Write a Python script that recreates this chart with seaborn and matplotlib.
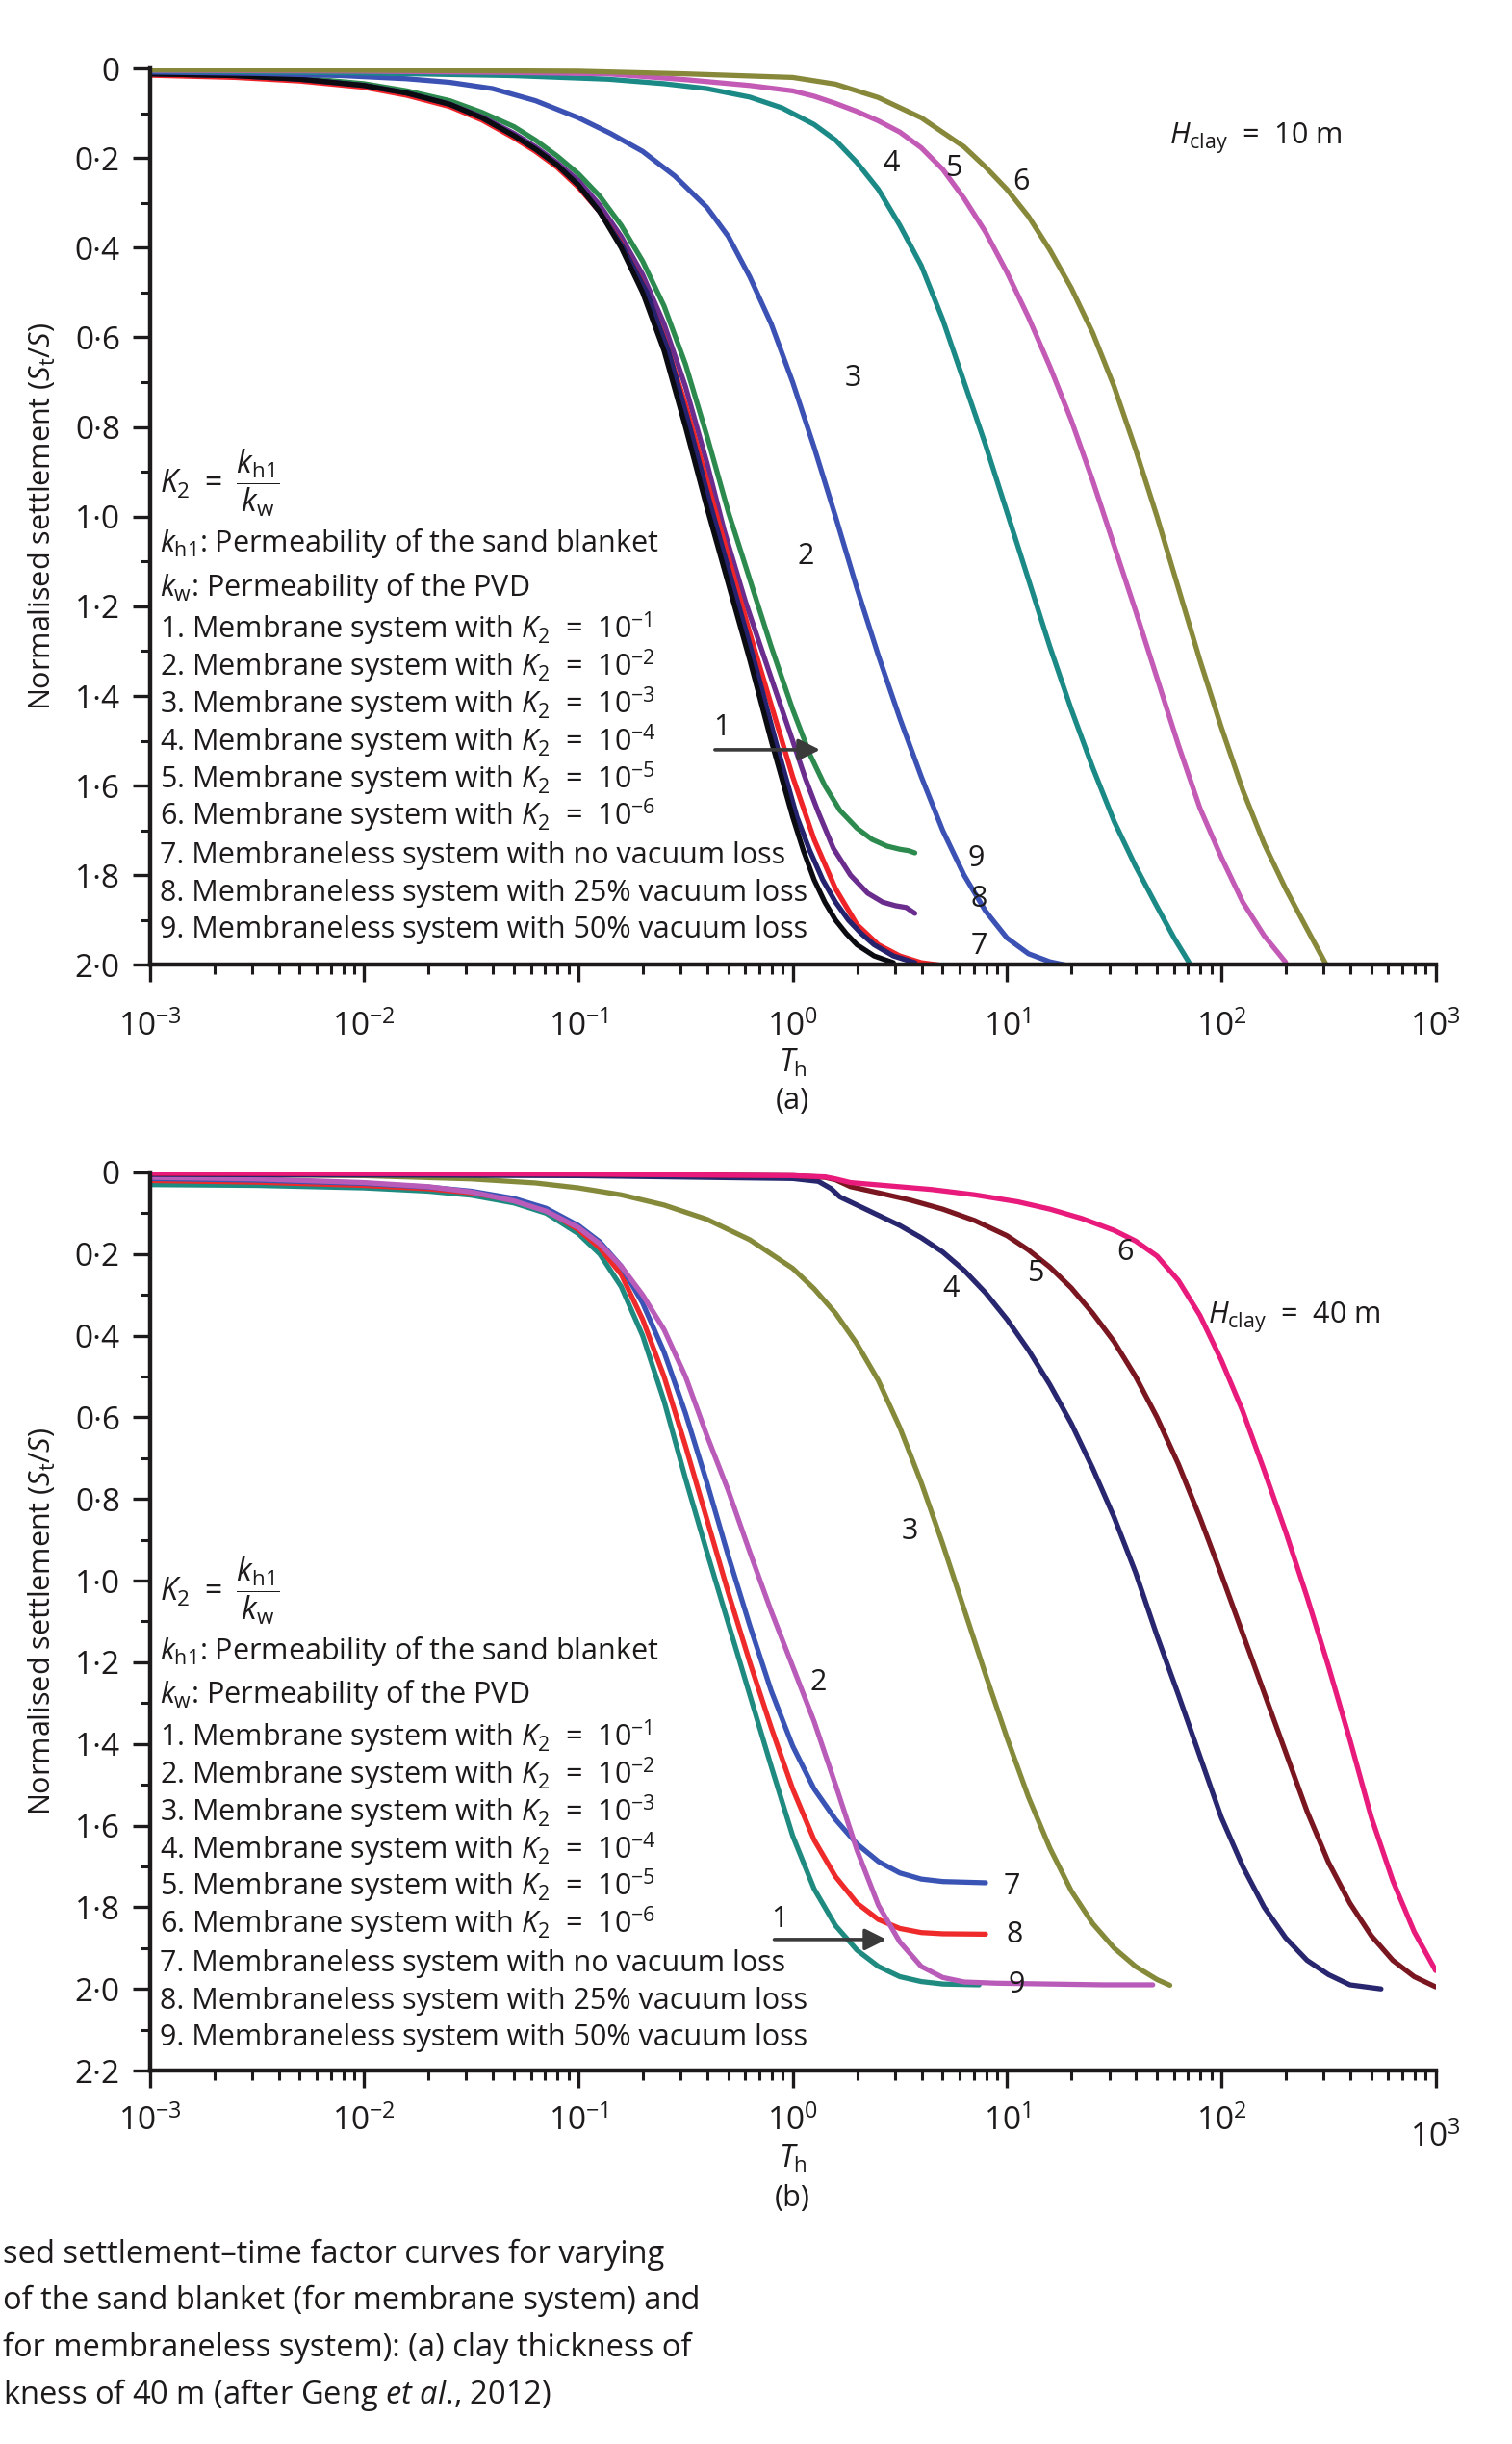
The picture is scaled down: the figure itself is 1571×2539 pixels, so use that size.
import numpy as np
import pandas as pd
import seaborn as sns
import matplotlib.pyplot as plt
from matplotlib.ticker import FixedLocator, LogLocator, NullFormatter

# ---- panel (a): H_clay = 10 m  (log10 Th, normalised settlement) ----
A1_LOGT = [-3.0, -2.6, -2.3, -2.0, -1.8, -1.6, -1.45, -1.3, -1.2, -1.1, -1.0, -0.9, -0.8, -0.7, -0.6, -0.5, -0.4, -0.3, -0.2, -0.1, 0.0, 0.05, 0.1, 0.15, 0.2, 0.25, 0.3, 0.38, 0.47]
A1_S = [0.012, 0.016, 0.024, 0.038, 0.055, 0.08, 0.11, 0.15, 0.18, 0.215, 0.26, 0.32, 0.40, 0.50, 0.63, 0.80, 0.98, 1.15, 1.32, 1.50, 1.67, 1.745, 1.81, 1.86, 1.90, 1.93, 1.955, 1.98, 1.995]
A2_LOGT = [-3.0, -2.6, -2.3, -2.0, -1.8, -1.6, -1.45, -1.3, -1.2, -1.1, -1.0, -0.9, -0.79, -0.68, -0.58, -0.48, -0.38, -0.28, -0.18, -0.08, 0.02, 0.08, 0.14, 0.2, 0.26, 0.32, 0.38, 0.47, 0.57]
A2_S = [0.012, 0.016, 0.024, 0.038, 0.055, 0.08, 0.11, 0.15, 0.18, 0.215, 0.26, 0.32, 0.40, 0.50, 0.63, 0.80, 0.98, 1.15, 1.32, 1.50, 1.67, 1.745, 1.81, 1.86, 1.90, 1.93, 1.955, 1.98, 1.995]
A3_LOGT = [-3.0, -2.5, -2.1, -1.8, -1.6, -1.4, -1.2, -1.0, -0.85, -0.7, -0.55, -0.4, -0.3, -0.2, -0.1, 0.0, 0.1, 0.2, 0.3, 0.4, 0.5, 0.6, 0.7, 0.8, 0.9, 1.0, 1.1, 1.2, 1.27]
A3_S = [0.008, 0.011, 0.016, 0.023, 0.031, 0.045, 0.072, 0.11, 0.145, 0.185, 0.24, 0.31, 0.375, 0.465, 0.57, 0.70, 0.845, 1.0, 1.16, 1.31, 1.45, 1.58, 1.70, 1.80, 1.88, 1.94, 1.975, 1.993, 2.0]
A4_LOGT = [-3.0, -2.0, -1.3, -0.86, -0.6, -0.4, -0.2, -0.05, 0.1, 0.2, 0.3, 0.4, 0.5, 0.6, 0.7, 0.8, 0.9, 1.0, 1.1, 1.2, 1.3, 1.4, 1.5, 1.6, 1.7, 1.78, 1.85]
A4_S = [0.005, 0.01, 0.016, 0.024, 0.034, 0.045, 0.064, 0.088, 0.125, 0.16, 0.21, 0.27, 0.35, 0.44, 0.56, 0.70, 0.84, 0.99, 1.14, 1.29, 1.43, 1.56, 1.68, 1.78, 1.87, 1.94, 1.995]
A5_LOGT = [-3.0, -2.0, -1.3, -0.86, -0.5, -0.2, 0.0, 0.1, 0.2, 0.3, 0.4, 0.5, 0.6, 0.7, 0.8, 0.9, 1.0, 1.1, 1.2, 1.3, 1.4, 1.5, 1.6, 1.7, 1.8, 1.9, 2.0, 2.1, 2.2, 2.3]
A5_S = [0.004, 0.006, 0.009, 0.012, 0.025, 0.038, 0.05, 0.062, 0.078, 0.096, 0.117, 0.142, 0.177, 0.225, 0.29, 0.365, 0.455, 0.555, 0.665, 0.785, 0.92, 1.065, 1.21, 1.36, 1.51, 1.65, 1.76, 1.86, 1.935, 1.994]
A6_LOGT = [-3.0, -2.0, -1.0, -0.5, 0.0, 0.2, 0.4, 0.6, 0.8, 0.9, 1.0, 1.1, 1.2, 1.3, 1.4, 1.5, 1.6, 1.7, 1.8, 1.9, 2.0, 2.1, 2.2, 2.3, 2.4, 2.49]
A6_S = [0.003, 0.004, 0.006, 0.012, 0.02, 0.035, 0.065, 0.11, 0.175, 0.22, 0.27, 0.33, 0.405, 0.49, 0.59, 0.71, 0.85, 1.0, 1.16, 1.32, 1.47, 1.61, 1.73, 1.83, 1.92, 2.0]
A7_LOGT = [-3.0, -2.6, -2.3, -2.0, -1.8, -1.6, -1.45, -1.3, -1.2, -1.1, -1.0, -0.9, -0.8, -0.7, -0.6, -0.5, -0.4, -0.3, -0.2, -0.1, 0.0, 0.1, 0.2, 0.3, 0.4, 0.5, 0.6, 0.68]
A7_S = [0.015, 0.02, 0.028, 0.042, 0.06, 0.085, 0.115, 0.155, 0.185, 0.22, 0.265, 0.32, 0.39, 0.48, 0.60, 0.75, 0.92, 1.09, 1.26, 1.42, 1.58, 1.72, 1.83, 1.91, 1.955, 1.98, 1.995, 2.0]
A8_LOGT = [-3.0, -2.6, -2.3, -2.0, -1.8, -1.6, -1.45, -1.3, -1.2, -1.1, -1.0, -0.9, -0.8, -0.7, -0.6, -0.5, -0.4, -0.32, -0.22, -0.1, 0.0, 0.06, 0.12, 0.19, 0.27, 0.35, 0.42, 0.48, 0.53, 0.57]
A8_S = [0.012, 0.016, 0.024, 0.038, 0.055, 0.08, 0.108, 0.145, 0.175, 0.21, 0.25, 0.305, 0.375, 0.46, 0.57, 0.71, 0.88, 1.03, 1.19, 1.36, 1.50, 1.585, 1.66, 1.74, 1.80, 1.84, 1.86, 1.868, 1.872, 1.885]
A9_LOGT = [-3.0, -2.6, -2.3, -2.0, -1.8, -1.6, -1.45, -1.3, -1.2, -1.1, -1.0, -0.9, -0.8, -0.7, -0.6, -0.5, -0.4, -0.3, -0.2, -0.1, 0.0, 0.08, 0.15, 0.22, 0.3, 0.37, 0.44, 0.5, 0.54, 0.57]
A9_S = [0.01, 0.014, 0.021, 0.034, 0.05, 0.072, 0.098, 0.13, 0.16, 0.195, 0.235, 0.285, 0.35, 0.43, 0.53, 0.66, 0.82, 0.99, 1.14, 1.29, 1.43, 1.53, 1.60, 1.655, 1.695, 1.72, 1.735, 1.742, 1.745, 1.75]

# ---- panel (b): H_clay = 40 m ----
B1_LOGT = [-3.0, -2.5, -2.0, -1.7, -1.5, -1.3, -1.15, -1.0, -0.9, -0.8, -0.7, -0.6, -0.5, -0.4, -0.3, -0.2, -0.1, 0.0, 0.1, 0.2, 0.3, 0.4, 0.5, 0.6, 0.7, 0.87]
B1_S = [0.03, 0.032, 0.038, 0.046, 0.056, 0.075, 0.10, 0.15, 0.20, 0.28, 0.40, 0.56, 0.75, 0.93, 1.105, 1.28, 1.455, 1.625, 1.755, 1.845, 1.905, 1.945, 1.97, 1.982, 1.988, 1.99]
B2_LOGT = [-3.0, -2.5, -2.0, -1.7, -1.5, -1.3, -1.15, -1.0, -0.9, -0.8, -0.7, -0.6, -0.5, -0.4, -0.3, -0.2, -0.1, 0.0, 0.1, 0.2, 0.3, 0.4, 0.5, 0.6, 0.7, 0.8, 0.95, 1.2, 1.45, 1.68]
B2_S = [0.012, 0.016, 0.025, 0.035, 0.048, 0.07, 0.095, 0.135, 0.175, 0.23, 0.30, 0.385, 0.50, 0.645, 0.78, 0.93, 1.075, 1.21, 1.345, 1.50, 1.66, 1.795, 1.885, 1.945, 1.972, 1.983, 1.986, 1.988, 1.99, 1.99]
B3_LOGT = [-3.0, -2.0, -1.5, -1.2, -1.0, -0.8, -0.6, -0.4, -0.2, 0.0, 0.1, 0.2, 0.3, 0.4, 0.5, 0.6, 0.7, 0.8, 0.9, 1.0, 1.1, 1.2, 1.3, 1.4, 1.5, 1.6, 1.7, 1.76]
B3_S = [0.003, 0.008, 0.016, 0.026, 0.038, 0.055, 0.08, 0.115, 0.165, 0.235, 0.285, 0.345, 0.42, 0.51, 0.625, 0.76, 0.91, 1.07, 1.23, 1.385, 1.53, 1.655, 1.76, 1.84, 1.90, 1.945, 1.977, 1.991]
B4_LOGT = [-3.0, -1.0, 0.0, 0.12, 0.18, 0.22, 0.3, 0.4, 0.5, 0.6, 0.7, 0.8, 0.9, 1.0, 1.1, 1.2, 1.3, 1.4, 1.5, 1.6, 1.7, 1.8, 1.9, 2.0, 2.1, 2.2, 2.3, 2.4, 2.5, 2.6, 2.745]
B4_S = [0.005, 0.008, 0.015, 0.022, 0.04, 0.06, 0.08, 0.105, 0.13, 0.16, 0.195, 0.24, 0.295, 0.36, 0.435, 0.52, 0.615, 0.725, 0.845, 0.98, 1.135, 1.28, 1.43, 1.58, 1.70, 1.80, 1.875, 1.93, 1.965, 1.99, 2.0]
B5_LOGT = [-3.0, -1.0, 0.0, 0.15, 0.2, 0.27, 0.4, 0.55, 0.7, 0.85, 1.0, 1.1, 1.2, 1.3, 1.4, 1.5, 1.6, 1.7, 1.8, 1.9, 2.0, 2.1, 2.2, 2.3, 2.4, 2.5, 2.6, 2.7, 2.8, 2.9, 3.0]
B5_S = [0.003, 0.004, 0.008, 0.012, 0.018, 0.035, 0.05, 0.068, 0.09, 0.118, 0.155, 0.19, 0.232, 0.283, 0.345, 0.415, 0.50, 0.60, 0.715, 0.845, 0.985, 1.13, 1.275, 1.42, 1.565, 1.69, 1.79, 1.87, 1.93, 1.97, 1.995]
B6_LOGT = [-3.0, -1.0, 0.0, 0.15, 0.2, 0.27, 0.45, 0.65, 0.85, 1.05, 1.2, 1.35, 1.5, 1.6, 1.7, 1.8, 1.9, 2.0, 2.1, 2.2, 2.3, 2.4, 2.5, 2.6, 2.7, 2.8, 2.9, 3.0]
B6_S = [0.002, 0.004, 0.008, 0.011, 0.016, 0.025, 0.033, 0.042, 0.055, 0.072, 0.09, 0.113, 0.142, 0.168, 0.205, 0.265, 0.35, 0.46, 0.585, 0.73, 0.88, 1.04, 1.21, 1.39, 1.58, 1.735, 1.86, 1.955]
B7_LOGT = [-3.0, -2.5, -2.0, -1.7, -1.5, -1.3, -1.15, -1.0, -0.9, -0.8, -0.7, -0.6, -0.5, -0.4, -0.3, -0.2, -0.1, 0.0, 0.1, 0.2, 0.3, 0.4, 0.5, 0.6, 0.7, 0.9]
B7_S = [0.015, 0.019, 0.027, 0.036, 0.046, 0.064, 0.088, 0.13, 0.17, 0.23, 0.32, 0.44, 0.59, 0.76, 0.94, 1.11, 1.27, 1.405, 1.51, 1.585, 1.645, 1.688, 1.716, 1.731, 1.737, 1.740]
B8_LOGT = [-3.0, -2.5, -2.0, -1.7, -1.5, -1.3, -1.15, -1.0, -0.9, -0.8, -0.7, -0.6, -0.5, -0.4, -0.3, -0.2, -0.1, 0.0, 0.1, 0.2, 0.3, 0.4, 0.5, 0.6, 0.7, 0.9]
B8_S = [0.02, 0.024, 0.032, 0.04, 0.05, 0.068, 0.092, 0.14, 0.185, 0.25, 0.36, 0.50, 0.67, 0.85, 1.03, 1.20, 1.36, 1.51, 1.635, 1.725, 1.79, 1.83, 1.852, 1.862, 1.865, 1.866]

A_CURVES = {"9": (A9_LOGT, A9_S), "8": (A8_LOGT, A8_S), "7": (A7_LOGT, A7_S),
            "2": (A2_LOGT, A2_S), "1": (A1_LOGT, A1_S), "3": (A3_LOGT, A3_S),
            "4": (A4_LOGT, A4_S), "5": (A5_LOGT, A5_S), "6": (A6_LOGT, A6_S)}
A_COLORS = {"1": "#0b0b12", "2": "#25226e", "3": "#3b52b4", "4": "#1b8a86",
            "5": "#c25ab6", "6": "#87883a", "7": "#ee2428", "8": "#6a2d8e", "9": "#2d8a4e"}
B_CURVES = {"1": (B1_LOGT, B1_S), "8": (B8_LOGT, B8_S), "7": (B7_LOGT, B7_S),
            "2": (B2_LOGT, B2_S), "3": (B3_LOGT, B3_S), "4": (B4_LOGT, B4_S),
            "5": (B5_LOGT, B5_S), "6": (B6_LOGT, B6_S)}
B_COLORS = {"1": "#1f8a80", "2": "#b95cb9", "3": "#858a3b", "4": "#27266f",
            "5": "#7a1620", "6": "#e81a7c", "7": "#3a54b5", "8": "#ee2a2a"}

X_TICKS = [1e-3, 1e-2, 1e-1, 1e0, 1e1, 1e2, 1e3]
X_LABELS = [r"$10^{-3}$", r"$10^{-2}$", r"$10^{-1}$", r"$10^{0}$", r"$10^{1}$", r"$10^{2}$", r"$10^{3}$"]
A_YTICKS = [0, 0.2, 0.4, 0.6, 0.8, 1.0, 1.2, 1.4, 1.6, 1.8, 2.0]
A_YLABELS = ["0", "0·2", "0·4", "0·6", "0·8", "1·0", "1·2", "1·4", "1·6", "1·8", "2·0"]
B_YTICKS = A_YTICKS + [2.2]
B_YLABELS = A_YLABELS + ["2·2"]

LEGEND_LINES = [
    r"1. Membrane system with $K_2$  =  10$^{-1}$",
    r"2. Membrane system with $K_2$  =  10$^{-2}$",
    r"3. Membrane system with $K_2$  =  10$^{-3}$",
    r"4. Membrane system with $K_2$  =  10$^{-4}$",
    r"5. Membrane system with $K_2$  =  10$^{-5}$",
    r"6. Membrane system with $K_2$  =  10$^{-6}$",
    "7. Membraneless system with no vacuum loss",
    "8. Membraneless system with 25% vacuum loss",
    "9. Membraneless system with 50% vacuum loss",
]
CAPTION = [
    "sed settlement–time factor curves for varying",
    "of the sand blanket (for membrane system) and",
    "for membraneless system): (a) clay thickness of",
    r"kness of 40 m (after Geng $et$ $al$., 2012)",
]

sns.set_style("ticks")
plt.rcParams["font.family"] = ["Open Sans", "DejaVu Sans"]
plt.rcParams["mathtext.fontset"] = "custom"
plt.rcParams["mathtext.rm"] = "Open Sans"
plt.rcParams["mathtext.it"] = "Open Sans:italic"
plt.rcParams["mathtext.bf"] = "Open Sans:bold"
INK = "#1c1a1b"
FS = 22
TICK_FS = 24


def to_frame(curves):
    parts = []
    for name, (lt, s) in curves.items():
        parts.append(pd.DataFrame({"Th": np.power(10.0, lt), "S": s, "curve": name}))
    return pd.concat(parts, ignore_index=True)


def style_axes(ax, ymax, yticks, ylabels, xpad):
    ax.set_xscale("log")
    ax.set_xlim(1e-3, 1e3)
    ax.set_ylim(ymax, 0)
    ax.set_xticks(X_TICKS)
    ax.set_xticklabels(X_LABELS)
    ax.xaxis.set_minor_locator(LogLocator(base=10, subs=np.arange(2, 10)))
    ax.xaxis.set_minor_formatter(NullFormatter())
    ax.set_yticks(yticks)
    ax.set_yticklabels(ylabels)
    ax.yaxis.set_minor_locator(FixedLocator(np.arange(0.1, ymax, 0.2)))
    ax.tick_params(which="major", length=13, width=2.4, color=INK, labelsize=TICK_FS, labelcolor=INK)
    ax.tick_params(axis="y", which="major", pad=9)
    ax.tick_params(axis="x", which="major", pad=xpad)
    ax.tick_params(which="minor", length=7, width=2.2, color=INK)
    for side in ["top", "right"]:
        ax.spines[side].set_visible(False)
    for side in ["left", "bottom"]:
        ax.spines[side].set_linewidth(3.2)
        ax.spines[side].set_color(INK)
    ax.set_xlabel("")
    ax.set_ylabel("")


def legend_block(ax, frac_y, kh_y, kw_y, first_y, step):
    x0 = 1.12e-3
    ax.text(x0, frac_y, r"$K_2\ =\ \dfrac{k_{\mathrm{h1}}}{k_{\mathrm{w}}}$",
            fontsize=FS + 1, color=INK, va="center", ha="left")
    ax.text(x0, kh_y, r"$k_{\mathrm{h1}}$: Permeability of the sand blanket",
            fontsize=FS, color=INK, va="baseline", ha="left")
    ax.text(x0, kw_y, r"$k_{\mathrm{w}}$: Permeability of the PVD",
            fontsize=FS, color=INK, va="baseline", ha="left")
    for i, line in enumerate(LEGEND_LINES):
        ax.text(x0, first_y + i * step, line, fontsize=FS, color=INK, va="baseline", ha="left")


fig = plt.figure(figsize=(15.71, 25.39), dpi=100)
ax_a = fig.add_axes([0.099, 0.6052, 0.8505, 0.3668])
ax_b = fig.add_axes([0.099, 0.1528, 0.8505, 0.3675])

sns.lineplot(data=to_frame(A_CURVES), x="Th", y="S", hue="curve",
             hue_order=list(A_CURVES), palette=A_COLORS, estimator=None,
             sort=False, linewidth=3.8, legend=False, ax=ax_a)
sns.lineplot(data=to_frame(B_CURVES), x="Th", y="S", hue="curve",
             hue_order=list(B_CURVES), palette=B_COLORS, estimator=None,
             sort=False, linewidth=3.8, legend=False, ax=ax_b)

style_axes(ax_a, 2.0, A_YTICKS, A_YLABELS, 21)
style_axes(ax_b, 2.2, B_YTICKS, B_YLABELS, 13)
ax_b.xaxis.get_major_ticks()[-1].set_pad(25)

# panel (a) annotations
legend_block(ax_a, 0.924, 1.078, 1.176, 1.272, 0.0835)
for lab, lt, s in [("4", 0.462, 0.212), ("5", 0.753, 0.223), ("6", 1.065, 0.254),
                   ("3", 0.28, 0.692), ("2", 0.062, 1.089), ("9", 0.855, 1.763),
                   ("8", 0.869, 1.854), ("7", 0.869, 1.958), ("1", -0.331, 1.471)]:
    ax_a.text(10 ** lt, s, lab, fontsize=FS, color=INK, ha="center", va="center")
ax_a.annotate("", xy=(10 ** 0.14, 1.52), xytext=(10 ** -0.375, 1.52),
              arrowprops=dict(arrowstyle="-|>", color="#3a3a3a", lw=2.6, mutation_scale=34))
ax_a.text(10 ** 1.756, 0.157, r"$H_{\mathrm{clay}}$  =  10 m", fontsize=FS, color=INK,
          ha="left", va="center")

# panel (b) annotations
legend_block(ax_b, 1.024, 1.193, 1.300, 1.406, 0.0917)
for lab, lt, s in [("4", 0.738, 0.286), ("5", 1.131, 0.248), ("6", 1.553, 0.195),
                   ("3", 0.549, 0.879), ("2", 0.12, 1.249), ("7", 1.022, 1.749),
                   ("8", 1.036, 1.868), ("9", 1.044, 1.990), ("1", -0.062, 1.830)]:
    ax_b.text(10 ** lt, s, lab, fontsize=FS, color=INK, ha="center", va="center")
ax_b.annotate("", xy=(10 ** 0.45, 1.879), xytext=(10 ** -0.098, 1.879),
              arrowprops=dict(arrowstyle="-|>", color="#3a3a3a", lw=2.6, mutation_scale=34))
ax_b.text(10 ** 1.938, 0.355, r"$H_{\mathrm{clay}}$  =  40 m", fontsize=FS, color=INK,
          ha="left", va="center")

# axis titles
ylab = r"Normalised settlement ($S_{\mathrm{t}}$/$S$)"
fig.text(0.0278, 0.7885, ylab, rotation=90, fontsize=FS, color=INK, ha="center", va="center")
fig.text(0.0278, 0.3365, ylab, rotation=90, fontsize=FS, color=INK, ha="center", va="center")
fig.text(0.5243, 0.565, r"$T_{\mathrm{h}}$", fontsize=FS + 1, color=INK, ha="center", va="center")
fig.text(0.5243, 0.5496, "(a)", fontsize=FS, color=INK, ha="center", va="center")
fig.text(0.5243, 0.1166, r"$T_{\mathrm{h}}$", fontsize=FS + 1, color=INK, ha="center", va="center")
fig.text(0.5243, 0.1006, "(b)", fontsize=FS, color=INK, ha="center", va="center")

# caption (only its right-hand part shows in the source page)
for y, line in zip([0.0776, 0.0585, 0.0394, 0.0202], CAPTION):
    fig.text(0.002, y, line, fontsize=23.5, color=INK, ha="left", va="center")

fig.savefig("out.png", dpi=100)
